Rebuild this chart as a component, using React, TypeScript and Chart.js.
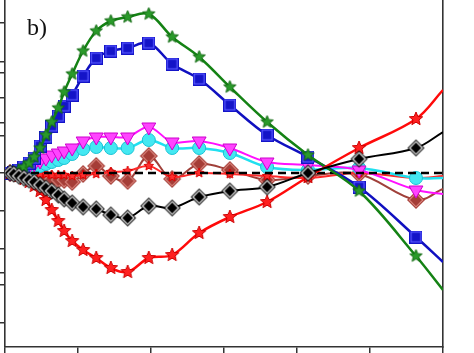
import React, { useEffect, useRef } from "react";
import { Chart, registerables } from "chart.js";
Chart.register(...registerables);

// shared sample positions (x) and series values
const X = [0.07, 0.12, 0.19, 0.26, 0.33, 0.4, 0.48, 0.56, 0.64, 0.73, 0.81, 0.92, 1.07, 1.25, 1.45, 1.68, 1.97, 2.29, 2.66, 3.08, 3.59, 4.15, 4.85, 5.63, 6.0];
const GREEN = [0, 0.02, 0.06, 0.12, 0.2, 0.32, 0.5, 0.76, 1.02, 1.3, 1.62, 1.98, 2.44, 2.84, 3.04, 3.12, 3.18, 2.72, 2.32, 1.72, 1.02, 0.36, -0.36, -1.66, -2.34];
const BLUE = [0, 0.02, 0.06, 0.12, 0.2, 0.3, 0.54, 0.72, 0.94, 1.14, 1.34, 1.56, 1.94, 2.3, 2.44, 2.5, 2.6, 2.18, 1.88, 1.36, 0.76, 0.32, -0.28, -1.28, -1.78];
const MAGENTA = [0, 0.02, 0.04, 0.08, 0.14, 0.18, 0.24, 0.3, 0.36, 0.4, 0.44, 0.5, 0.64, 0.72, 0.72, 0.72, 0.92, 0.62, 0.64, 0.5, 0.22, 0.16, 0.06, -0.34, -0.42];
const CYAN = [0, 0.02, 0.02, 0.04, 0.06, 0.1, 0.14, 0.18, 0.22, 0.26, 0.3, 0.38, 0.48, 0.52, 0.5, 0.5, 0.66, 0.5, 0.5, 0.4, 0.12, 0.06, 0.1, -0.1, -0.1];
const BROWN = [0, 0, 0, -0.02, -0.04, -0.06, -0.08, -0.1, -0.12, -0.14, -0.14, -0.18, -0.02, 0.14, -0.06, -0.16, 0.34, -0.12, 0.18, 0.06, -0.14, -0.06, -0.02, -0.54, -0.32];
const RED_NEAR_ZERO = [0, 0, 0, 0, 0, 0, -0.02, -0.02, -0.04, -0.04, -0.04, -0.06, -0.04, -0.02, 0.02, 0.04, 0.14, -0.08, 0, -0.02, -0.06, -0.1, 0, -0.1, -0.06];
const RED = [0, -0.02, -0.06, -0.12, -0.18, -0.26, -0.36, -0.54, -0.74, -0.96, -1.16, -1.36, -1.54, -1.7, -1.9, -1.98, -1.7, -1.64, -1.2, -0.88, -0.58, -0.08, 0.5, 1.08, 1.66];
const BLACK = [0, -0.02, -0.06, -0.1, -0.14, -0.18, -0.24, -0.3, -0.36, -0.44, -0.52, -0.6, -0.68, -0.72, -0.84, -0.9, -0.66, -0.7, -0.48, -0.36, -0.28, 0, 0.28, 0.5, 0.82];
const ZERO_X = [0, 6];
const ZERO_Y = [0, 0];

const X_TICKS = [0, 1, 2, 3, 4, 5, 6];
const Y_TICKS = [3, 2.22, 2, 1.5, 1, 0.74, 0, -0.76, -1.52, -2, -2.24, -3];
const Y_MIN = -3.48;
const Y_MAX = 3.46;

function mk(size: number, draw: (g: CanvasRenderingContext2D, c: number) => void) {
  const cv = document.createElement("canvas");
  cv.width = size;
  cv.height = size;
  const g = cv.getContext("2d")!;
  draw(g, size / 2);
  return cv;
}

function starImg(fill: string, stroke: string, R: number) {
  return mk(Math.ceil(R * 2 + 4), (g, c) => {
    g.beginPath();
    for (let i = 0; i < 10; i++) {
      const r = i % 2 === 0 ? R : R * 0.45;
      const a = -Math.PI / 2 + (i * Math.PI) / 5;
      g.lineTo(c + r * Math.cos(a), c + r * Math.sin(a));
    }
    g.closePath();
    g.fillStyle = fill;
    g.fill();
    g.strokeStyle = stroke;
    g.lineWidth = 1;
    g.stroke();
  });
}

function diamondImg(fill: string, inner: string, R: number, ri: number) {
  return mk(Math.ceil(R * 2 + 2), (g, c) => {
    const d = (r: number) => {
      g.beginPath();
      g.moveTo(c, c - r);
      g.lineTo(c + r, c);
      g.lineTo(c, c + r);
      g.lineTo(c - r, c);
      g.closePath();
    };
    d(R);
    g.fillStyle = fill;
    g.fill();
    d(ri);
    g.strokeStyle = inner;
    g.lineWidth = 1.1;
    g.stroke();
  });
}

function squareImg(fill: string, inner: string, S: number) {
  return mk(S, (g) => {
    g.fillStyle = fill;
    g.fillRect(0, 0, S, S);
    g.strokeStyle = inner;
    g.lineWidth = 1.2;
    g.strokeRect(1.6, 1.6, S - 3.2, S - 3.2);
  });
}

function pts(ys: number[]) {
  return ys.map((y, i) => ({ x: X[i], y }));
}

const lastless = (r: number) => (ctx: any) => (ctx.dataIndex === X.length - 1 ? 0 : r);

export default function App() {
  const ref = useRef<HTMLCanvasElement>(null);

  useEffect(() => {
    if (!ref.current) return;
    const greenStar = starImg("#2a9a2a", "#126a12", 6.5);
    const redStar = starImg("#ff2020", "#cc0000", 7);
    const redSmallStar = starImg("#ff3030", "#dd0000", 5);
    const blackDia = diamondImg("#000000", "#ffffff", 8.5, 6.3);
    const brownDia = diamondImg("#a53d37", "#d9857c", 9, 6.8);
    const blueSq = squareImg("#1414c8", "#5656ff", 13);

    const base = {
      showLine: true,
      tension: 0.35,
      fill: false,
    };

    const chart = new Chart(ref.current, {
      type: "scatter",
      data: {
        datasets: [
          { ...base, data: pts(BLACK), borderColor: "#000", borderWidth: 2, pointStyle: blackDia, pointRadius: lastless(8) },
          { ...base, data: pts(RED), borderColor: "#ff0a0a", borderWidth: 2.5, pointStyle: redStar, pointRadius: lastless(7) },
          { ...base, data: pts(GREEN), borderColor: "#148214", borderWidth: 2.5, pointStyle: greenStar, pointRadius: lastless(6) },
          { ...base, data: pts(BLUE), borderColor: "#1010c0", borderWidth: 2.5, pointStyle: blueSq, pointRadius: lastless(7) },
          {
            showLine: true,
            data: ZERO_X.map((x, i) => ({ x, y: ZERO_Y[i] })),
            borderColor: "#000",
            borderWidth: 2.5,
            borderDash: [8, 5],
            pointRadius: 0,
          },
          {
            ...base, data: pts(MAGENTA), borderColor: "#ff10ff", borderWidth: 2, pointStyle: "triangle", rotation: 180,
            pointRadius: lastless(8), backgroundColor: "#ff44ff", pointBorderColor: "#cc00cc", pointBorderWidth: 1,
          },
          {
            ...base, data: pts(CYAN), borderColor: "#20e0f0", borderWidth: 2.5, pointStyle: "circle",
            pointRadius: lastless(6.5), backgroundColor: "#44e8f2", pointBorderColor: "#18c2d4", pointBorderWidth: 1,
          },
          { ...base, data: pts(RED_NEAR_ZERO), borderColor: "#ff2a2a", borderWidth: 2, pointStyle: redSmallStar, pointRadius: lastless(5) },
          { ...base, data: pts(BROWN), borderColor: "#a0403a", borderWidth: 2, pointStyle: brownDia, pointRadius: lastless(9) },
        ] as any,
      },
      options: {
        animation: false,
        responsive: false,
        maintainAspectRatio: false,
        layout: { autoPadding: false, padding: { left: 0, top: 0, right: 31, bottom: 0 } },
        plugins: { legend: { display: false }, tooltip: { enabled: false } },
        scales: {
          x: {
            type: "linear",
            min: 0,
            max: 6,
            afterBuildTicks: (s: any) => {
              s.ticks = X_TICKS.map((v) => ({ value: v }));
            },
            ticks: { display: false },
            grid: { drawOnChartArea: false, drawTicks: true, tickLength: 6, color: "#333", lineWidth: 1.5 },
            border: { display: true, color: "#333", width: 1.6 },
          },
          y: {
            type: "linear",
            min: Y_MIN,
            max: Y_MAX,
            afterBuildTicks: (s: any) => {
              s.ticks = Y_TICKS.map((v) => ({ value: v }));
            },
            ticks: { display: false },
            grid: { drawOnChartArea: false, drawTicks: true, tickLength: 5, color: "#333", lineWidth: 1.5 },
            border: { display: true, color: "#333", width: 1.6 },
          },
          y2: {
            type: "linear",
            position: "right",
            min: Y_MIN,
            max: Y_MAX,
            ticks: { display: false },
            grid: { display: false, drawTicks: false, tickLength: 0 },
            border: { display: true, color: "#333", width: 1.6 },
          },
        },
      } as any,
    });
    return () => chart.destroy();
  }, []);

  return (
    <div style={{ position: "fixed", left: 0, top: 0, width: 474, height: 353, background: "#fff" }}>
      <canvas ref={ref} width={474} height={353} style={{ display: "block" }} />
      <span
        style={{
          position: "absolute",
          left: 27,
          top: 15,
          fontFamily: "'Liberation Serif', serif",
          fontSize: 24,
          lineHeight: "24px",
          color: "#111",
        }}
      >
        b)
      </span>
    </div>
  );
}
